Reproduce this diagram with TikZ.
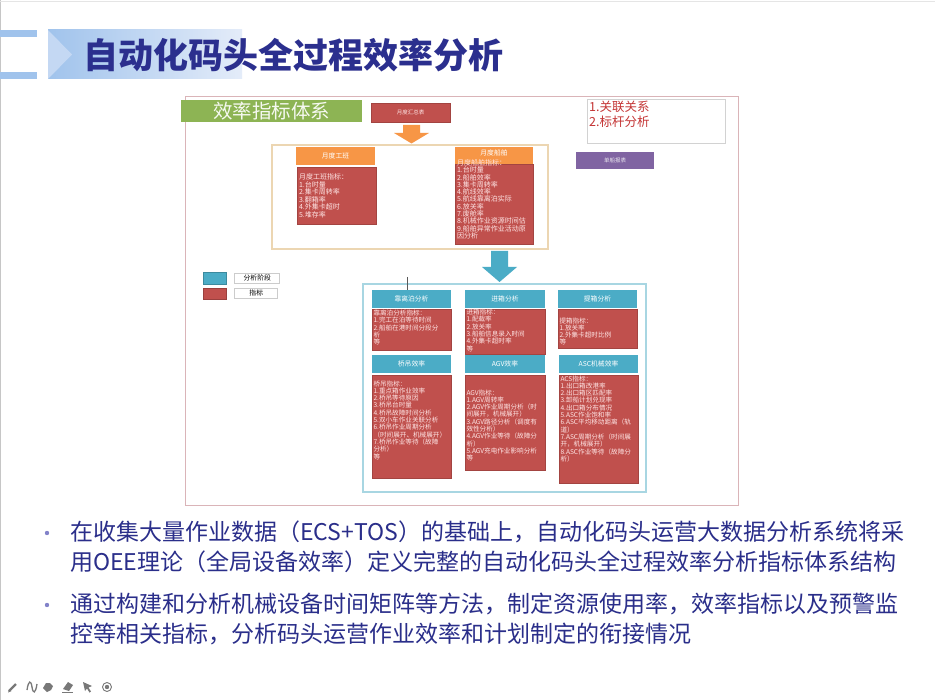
\documentclass[tikz,border=0pt]{standalone}
\usepackage{fontspec}
\newfontfamily\cjk{Noto Sans CJK SC}
\definecolor{titleblue}{RGB}{43,47,142}
\definecolor{bannerA}{RGB}{160,195,236}
\definecolor{bannerB}{RGB}{228,236,249}
\definecolor{chev}{RGB}{196,216,243}
\definecolor{framepink}{RGB}{218,180,184}
\definecolor{oliveg}{RGB}{141,180,84}
\definecolor{redbox}{RGB}{192,80,77}
\definecolor{orangeh}{RGB}{247,150,70}
\definecolor{tealh}{RGB}{75,172,198}
\definecolor{purpleb}{RGB}{128,100,162}
\definecolor{tanframe}{RGB}{236,214,178}
\definecolor{cyanframe}{RGB}{168,214,226}
\definecolor{bodyblue}{RGB}{42,46,138}
\definecolor{tagred}{RGB}{196,52,52}
\definecolor{icongray}{RGB}{120,120,120}
\begin{document}
\begin{tikzpicture}[x=1pt,y=-1pt,
  redb/.style={fill=redbox, draw=redbox!85!black, line width=0.3pt, anchor=north west, inner sep=0pt, outer sep=0pt},
  headb/.style={anchor=north west, inner sep=0pt, outer sep=0pt, text=white, font=\cjk\fontsize{6.8}{8}\selectfont},
  tealb/.style={headb, fill=tealh},
  orb/.style={headb, fill=orangeh},
  itxt/.style={anchor=north west, inner sep=0pt, outer sep=0pt, align=left, text=white!90!red, font=\cjk\fontsize{6.6}{7.3}\selectfont},
  bodyline/.style={anchor=west, inner sep=0pt, text=bodyblue, font=\cjk\fontsize{23}{28}\selectfont},
  legtxt/.style={anchor=north west, draw=gray!40, line width=0.4pt, inner sep=0pt, outer sep=0pt, text=black, font=\cjk\fontsize{6.8}{8}\selectfont}
]
\useasboundingbox (0,0) rectangle (935,700);
\fill[white] (0,0) rectangle (935,700);
\draw[gray!45, line width=1pt] (0.5,0) -- (0.5,700);
\draw[gray!20, line width=0.6pt] (0,1) -- (935,1);

% ---- title banner
\fill[bannerA] (0,30) rectangle (37,37);
\fill[bannerA] (0,72) rectangle (37,79);
\shade[left color=bannerA, right color=bannerB] (48,30) rectangle (242,79);
\fill[chev] (48,30) -- (72,54.5) -- (48,79) -- cycle;
\node[anchor=west, inner sep=0pt, text=titleblue, font=\cjk\bfseries\fontsize{35}{40}\selectfont] (title) at (83,55) {自动化码头全过程效率分析};

% ---- outer diagram frame
\draw[framepink, line width=0.8pt] (185,96) rectangle (738,505);

% green label
\node[anchor=north west, fill=oliveg, minimum width=181, minimum height=22, inner sep=0pt, outer sep=0pt, text=white!92!oliveg, font=\cjk\fontsize{19.5}{22}\selectfont] (green) at (181,100) {效率指标体系};
% monthly summary
\node[redb, minimum width=79, minimum height=19, text=white!90!red, font=\cjk\fontsize{5.5}{6}\selectfont] (sum) at (371,103) {月度汇总表};
% orange arrow
\fill[orangeh] (403,125) -- (420,125) -- (420,133) -- (429,133) -- (411.5,143.5) -- (394,133) -- (403,133) -- cycle;
% text box top right
\node[anchor=north west, draw=gray!35, fill=white, line width=0.6pt, minimum width=138, minimum height=44, inner sep=0pt, outer sep=0pt] (note) at (587,99) {};
\node[anchor=north west, inner sep=0pt, align=left, text=tagred, font=\cjk\fontsize{12.5}{15}\selectfont] (notetxt) at (589,100.5) {1.关联关系\\2.标杆分析};
% purple
\node[anchor=north west, fill=purpleb, minimum width=78, minimum height=17, inner sep=0pt, outer sep=0pt, text=white!85!purpleb, font=\cjk\fontsize{5.5}{6}\selectfont] (ship) at (576,152) {单船报表};

% ---- middle section
\draw[tanframe, line width=1.3pt] (272,145) rectangle (548,249);
\node[orb, minimum width=79, minimum height=18] (hgb) at (296,147) {月度工班};
\node[redb, minimum width=79, minimum height=57] (rgb) at (297,167) {};
\node[itxt, font=\cjk\fontsize{7}{7.6}\selectfont] (tgb) at (299,173.5) {月度工班指标：\\1.台时量\\2.集卡周转率\\3.翻箱率\\4.外集卡超时\\5.堆存率};
\node[orb, minimum width=78, minimum height=17, text depth=6pt] (hcb) at (455,147) {月度船舶};
\node[redb, minimum width=78, minimum height=80] (rcb) at (455,164) {};
\node[itxt, font=\cjk\fontsize{7}{7.3}\selectfont] (tcb) at (457,159.5) {月度船舶指标：\\1.台时量\\2.船舶效率\\3.集卡周转率\\4.航线效率\\5.航线靠离泊实际\\6.放关率\\7.废舱率\\8.机械作业资源时间估\\9.船舶异常作业活动原\\因分析};

% ---- legend
\node[anchor=north west, fill=tealh, draw=tealh!80!black, line width=0.3pt, minimum width=23, minimum height=12, inner sep=0pt] (lgt) at (203,272) {};
\node[legtxt, minimum width=45, minimum height=10] (lgtl) at (234,273) {\ 分析阶段\hfill};
\node[anchor=north west, fill=redbox, draw=redbox!80!black, line width=0.3pt, minimum width=23, minimum height=11, inner sep=0pt] (lgr) at (203,288) {};
\node[legtxt, minimum width=43, minimum height=10] (lgrl) at (234,288) {\ 指标\hfill};

% teal arrow
\fill[tealh] (491,251) -- (508,251) -- (508,267) -- (517,267) -- (499.5,282) -- (482,267) -- (491,267) -- cycle;

% ---- bottom section
\draw[cyanframe, line width=1.3pt] (363,284) rectangle (646,492);

\node[tealb, minimum width=79, minimum height=18] (h1) at (372,290) {靠离泊分析};
\node[tealb, minimum width=80, minimum height=18] (h2) at (465,290) {进箱分析};
\node[tealb, minimum width=79, minimum height=18] (h3) at (558,290) {提箱分析};
\node[redb, minimum width=79, minimum height=41] (r1) at (372,309) {};
\node[redb, minimum width=80, minimum height=45] (r2) at (465,309) {};
\node[redb, minimum width=79, minimum height=39] (r3) at (558,309) {};
\node[itxt] (t1) at (373.5,310) {靠离泊分析指标：\\1.完工在泊等待时间\\2.船舶在港时间分段分\\析\\等};
\node[itxt] (t2) at (466.5,309) {进箱指标：\\1.配载率\\2.放关率\\3.船舶信息录入时间\\4.外集卡超时率\\等};
\node[itxt] (t3) at (559.5,317.5) {提箱指标：\\1.放关率\\2.外集卡超时比例\\等};

\node[tealb, minimum width=79, minimum height=18] (h4) at (372,355) {桥吊效率};
\node[tealb, minimum width=80, minimum height=18] (h5) at (465,355) {AGV效率};
\node[tealb, minimum width=79, minimum height=18] (h6) at (559,355) {ASC机械效率};
\node[redb, minimum width=79, minimum height=103] (r4) at (372,375) {};
\node[redb, minimum width=80, minimum height=95] (r5) at (465,375) {};
\node[redb, minimum width=79, minimum height=108] (r6) at (559,375) {};
\node[itxt] (t4) at (373.5,380.5) {桥吊指标：\\1.重点箱作业效率\\2.桥吊等待原因\\3.桥吊台时量\\4.桥吊故障时间分析\\5.双小车作业关联分析\\6.桥吊作业周期分析\\（时间展开、机械展开）\\7.桥吊作业等待（故障\\分析）\\等};
\node[itxt] (t5) at (466.5,389.5) {AGV指标：\\1.AGV周转率\\2.AGV作业周期分析（时\\间展开，机械展开）\\3.AGV路径分析（调度有\\效性分析）\\4.AGV作业等待（故障分\\析）\\5.AGV充电作业影响分析\\等};
\node[itxt] (t6) at (560.5,375.5) {ACS指标：\\1.出口箱改港率\\2.出口箱区匹配率\\3.卸船计划兑现率\\4.出口箱分布情况\\5.ASC作业饱和率\\6.ASC平均移动距离（轨\\道）\\7.ASC周期分析（时间展\\开，机械展开）\\8.ASC作业等待（故障分\\析）};

% thin connector line
\coordinate (lt) at (407,277);
\draw[gray!70!black, line width=0.4pt] (lt) -- (lt |- h1.north);

% ---- bullet text
\fill[gray!60!blue!70] (47,533) circle (2.2);
\fill[gray!60!blue!70] (47,605) circle (2.2);
\node[bodyline] (b1) at (70,532) {在收集大量作业数据（ECS+TOS）的基础上，自动化码头运营大数据分析系统将采};
\node[bodyline] (b2) at (70,562) {用OEE理论（全局设备效率）定义完整的自动化码头全过程效率分析指标体系结构};
\node[bodyline] (b3) at (70,604) {通过构建和分析机械设备时间矩阵等方法，制定资源使用率，效率指标以及预警监};
\node[bodyline] (b4) at (70,634) {控等相关指标，分析码头运营作业效率和计划制定的衔接情况};

% ---- toolbar icons
\draw[icongray, line width=2.4pt] (9,691) -- (16,684);
\fill[icongray] (8,692.5) -- (9.5,689) -- (11.5,691) -- cycle;
\draw[icongray, line width=1.3pt] (27,690) .. controls (28.5,680) and (31,680) .. (32,687) .. controls (33,694) and (35.5,694) .. (37,684);
\fill[icongray] (43,688) -- (46,683) -- (50,683) -- (53,686) -- (51,690) -- (47,692) -- cycle;
\fill[icongray] (63,689) -- (68,682) -- (73,685) -- (69,691) -- cycle;
\draw[icongray, line width=0.8pt] (62,692) -- (73,692);
\fill[icongray] (83,682) -- (92,686) -- (88.5,687.5) -- (91,691.5) -- (89.5,692.5) -- (87,688.5) -- (85,691) -- cycle;
\draw[icongray, line width=0.9pt] (107,687) circle (4.5);
\fill[icongray] (107,687) circle (2.2);
\end{tikzpicture}
\end{document}
